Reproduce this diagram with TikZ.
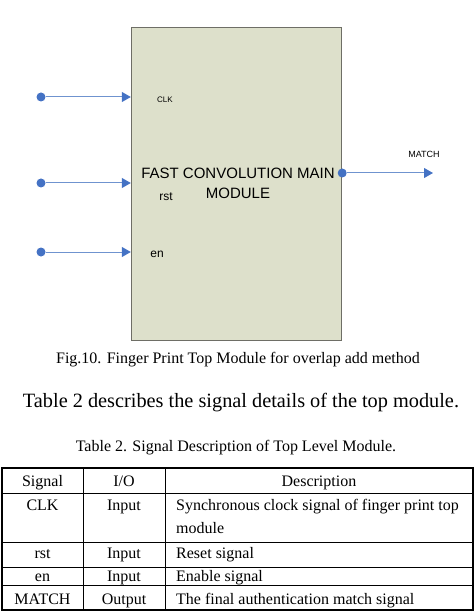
\documentclass[tikz,border=0pt]{standalone}
\usepackage{fontspec}
\setmainfont{Liberation Serif}
\setsansfont{Liberation Sans}
\usetikzlibrary{arrows.meta,positioning,calc}
\definecolor{sigblue}{HTML}{4472C4}
\definecolor{linkblue}{HTML}{6F93CF}
\definecolor{boxfill}{HTML}{DDE0CB}
\definecolor{boxedge}{HTML}{6E6E66}

\begin{document}
\begin{tikzpicture}[x=1pt,y=-1pt,
      module/.style={draw=boxedge, line width=1.4pt, fill=boxfill, minimum width=210pt, minimum height=313pt, inner sep=0pt},
      pin/.style={circle, fill=sigblue, inner sep=0pt, minimum size=9pt},
      sig/.style={draw=linkblue, line width=1pt, -{Triangle[length=9pt,width=10pt,fill=sigblue,color=sigblue]}},
      lbl/.style={font=\sffamily\fontsize{8}{9}\selectfont, inner sep=0pt},
      cell/.style={font=\fontsize{16}{23}\selectfont, inner sep=0pt, anchor=base},
      desc/.style={cell, anchor=base west, align=left},
      every node/.style={font=\fontsize{16}{19}\selectfont}
    ]
    \useasboundingbox (0,0) rectangle (474,612);

    % block diagram
    \node[module] (top) at (236.5,184) {};
    \node[font=\sffamily\fontsize{15}{20}\selectfont, align=center, inner sep=0pt] (title) at (238,183) {FAST CONVOLUTION MAIN\\MODULE};

    \node[pin] (pclk) at (41,97) {};
    \node[pin] (prst) at (41,183) {};
    \node[pin] (pen) at (41,252) {};
    \draw[sig] (pclk) -- (pclk -| top.west);
    \draw[sig] (prst) -- (prst -| top.west);
    \draw[sig] (pen) -- (pen -| top.west);

    \node[lbl] (lclk) at (165,100) {CLK};
    \node[lbl, font=\sffamily\fontsize{12}{13}\selectfont] (lrst) at (166,197) {rst};
    \node[lbl, font=\sffamily\fontsize{12}{13}\selectfont] (len) at (157,254) {en};

    \node[pin] (pmatch) at (top.east |- 0,173) {};
    \coordinate (matchend) at (433,173);
    \draw[sig] (pmatch) -- (matchend);
    \node[lbl, font=\sffamily\fontsize{9}{10}\selectfont] (lmatch) at (424,154) {MATCH};

    % captions
    \node (figcap) at (238,360) {Fig.10. Finger Print Top Module for overlap add method};
    \node[font=\fontsize{20.3}{23}\selectfont] (para) at (241,403) {Table 2 describes the signal details of the top module.};
    \node (tabcap) at (236,448) {Table 2. Signal Description of Top Level Module.};

    % table
    \draw[line width=1.2pt] (2,468) rectangle (473,610);
    \draw[line width=0.8pt] (2,493) -- (473,493);
    \draw[line width=0.8pt] (2,542) -- (473,542);
    \draw[line width=0.8pt] (2,567) -- (473,567);
    \draw[line width=0.8pt] (2,585) -- (473,585);
    \draw[line width=0.8pt] (83,468) -- (83,610);
    \draw[line width=0.8pt] (165,468) -- (165,610);

    \node[cell] (h1) at (42.5,486) {Signal};
    \node[cell] (h2) at (124,486) {I/O};
    \node[cell] (h3) at (319,486) {Description};

    \node[cell] (s1) at (42.5,510) {CLK};
    \node[cell] (io1) at (124,510) {Input};
    % base of a two-line node is its last line
    \node[desc] (d1) at (176,533) {Synchronous clock signal of finger print top\\module};

    \node[cell] (s2) at (42.5,558) {rst};
    \node[cell] (io2) at (124,558) {Input};
    \node[desc] (d2) at (176,558) {Reset signal};

    \node[cell] (s3) at (42.5,581) {en};
    \node[cell] (io3) at (124,581) {Input};
    \node[desc] (d3) at (176,581) {Enable signal};

    \node[cell] (s4) at (42.5,604) {MATCH};
    \node[cell] (io4) at (124,604) {Output};
    \node[desc] (d4) at (176,604) {The final authentication match signal};
  \end{tikzpicture}
\end{document}
